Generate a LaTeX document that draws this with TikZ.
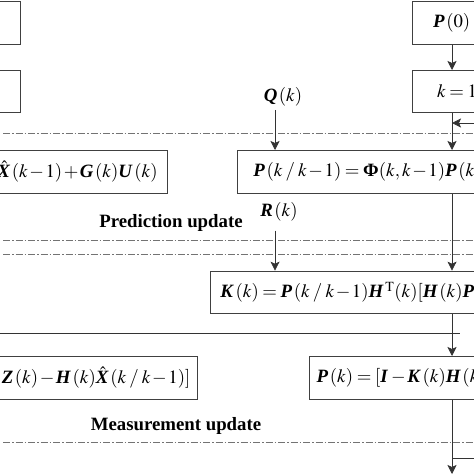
\documentclass[tikz,border=0pt]{standalone}
\usepackage{amsmath}
\usepackage{mathptmx}
\usepackage{fontspec}
\setmainfont{Liberation Serif}
\usetikzlibrary{arrows.meta}
\medmuskip=1.5mu
\thickmuskip=3.5mu
\newcommand{\bv}[1]{\textbf{\textit{#1}}\mkern1.5mu}
\newcommand{\sep}{\mkern3mu/\mkern3mu}
\tikzset{
    kalman flow/.style={
            x=1pt,y=-1pt,
            font=\fontsize{18.8}{23}\selectfont,
            block/.style={draw=black!75,line width=0.8pt,minimum height=43pt,inner ysep=0pt},
            arrow/.style={-{Stealth[length=9pt,width=9pt,inset=2pt]},draw=black!80,line width=0.7pt},
            link/.style={draw=black!80,line width=0.7pt},
            phase/.style={draw=black!55,line width=0.6pt,dash pattern=on 7pt off 2pt on 1.5pt off 2pt},
            title/.style={font=\fontsize{18.8}{22}\selectfont\bfseries}
        }
    }
\begin{document}
\begin{tikzpicture}[kalman flow]
                \useasboundingbox (0,0) rectangle (474,474);
                \clip (0,0) rectangle (474,474);
                \coordinate (spine) at (452,0);
                \coordinate (qline) at (275,0);
                % initial values
                \node (X0) [block, anchor=north east, text width=100pt, inner xsep=0pt] at (20.7,1) {};
                \node (k0) [block, anchor=north east, text width=100pt, inner xsep=0pt, minimum height=42pt] at (20.7,70) {};
                \node (P0) [block, anchor=north west, text width=100pt, inner xsep=21pt, align=left] at (411.7,1) {$\bv{P}(0)$};
                \node (k1) [block, anchor=north west, text width=100pt, inner xsep=25pt, align=left, minimum height=42pt] at (411.7,70) {$k=1$};
                \node (Q) at (283,97) {$\bv{Q}(k)$};
                % prediction update
                \node (XP) [block, anchor=north east, text width=300pt, inner xsep=10pt, align=right] at (168,150) {$\hat{\bv{X}}(k-1)+\bv{G}(k)\bv{U}(k)$};
                \node (PP) [block, anchor=north west, text width=400pt, inner xsep=16pt, align=left] at (237,150) {$\bv{P}(k\sep k-1)=\textbf{Φ}(k,k-1)\bv{P}(k-1)$};
                \node (R) at (279,211.7) {$\bv{R}(k)$};
                \node (pred) [title] at (171,223) {Prediction update};
                % measurement update
                \node (K) [block, anchor=north west, text width=400pt, inner xsep=10pt, align=left, minimum height=42.3pt] at (210,270.7) {$\bv{K}(k)=\bv{P}(k\sep k-1)\bv{H}^{\mathrm{T}}(k)[\bv{H}(k)\bv{P}(k\sep k-1)$};
                \node (XU) [block, anchor=north east, text width=300pt, inner xsep=7pt, align=right] at (197.7,356) {$\bv{Z}(k)-\bv{H}(k)\hat{\bv{X}}(k\sep k-1)]$};
                \node (PU) [block, anchor=north west, text width=400pt, inner xsep=7pt, align=left] at (309.3,356) {$\bv{P}(k)=[\bv{I}-\bv{K}(k)\bv{H}(k)]$};
                \node (meas) [title] at (176,426) {Measurement update};
                \coordinate (gainA) at (0,333);
                \coordinate (gainB) at (460,333);
                \coordinate (back) at (474,123);
                \coordinate (loop) at (474,458);
                \coordinate (out) at (452,474);
                % phase borders
                \draw [phase] (3,133) -- (474,133);
                \draw [phase] (3,240.7) -- (474,240.7);
                \draw [phase] (3,254.3) -- (474,254.3);
                \draw [phase] (3,442.7) -- (474,442.7);
                % connectors
                \draw [arrow] (P0.south -| spine) -- (k1.north -| spine);
                \draw [arrow] (k1.south -| spine) -- (PP.north -| spine);
                \draw [arrow] (back) -- (back -| spine);
                \draw [arrow] (Q.south -| qline) -- (PP.north -| qline);
                \draw [arrow, shorten <=6pt] (R.south -| qline) -- (K.north -| qline);
                \draw [arrow] (PP.south -| spine) -- (K.north -| spine);
                \draw [link] (gainA) -- (gainB);
                \draw [arrow] (K.south -| spine) -- (PU.north -| spine);
                \draw [arrow] (PU.south -| spine) -- (out);
                \draw [link] (loop -| spine) -- (loop);
            \end{tikzpicture}
\end{document}
